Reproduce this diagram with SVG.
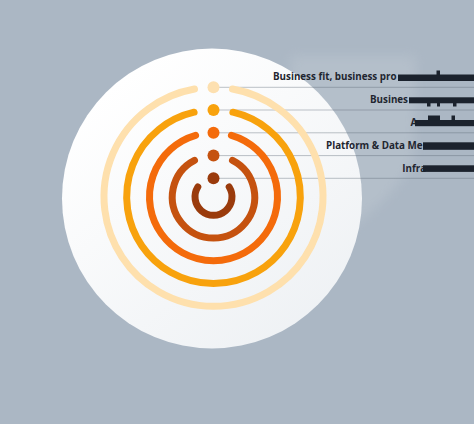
<svg xmlns="http://www.w3.org/2000/svg" width="474" height="424" viewBox="0 0 474 424">
<defs>
<linearGradient id="disc" x1="0.2" y1="0.1" x2="0.85" y2="0.95">
<stop offset="0" stop-color="#ffffff"/>
<stop offset="1" stop-color="#eef1f4"/>
</linearGradient>
<filter id="soft" x="-20%" y="-20%" width="140%" height="140%">
<feGaussianBlur stdDeviation="6"/>
</filter>
<style>
.ring{fill:none;stroke-width:7;stroke-linecap:round}
.lead{stroke:#5f6b78;stroke-opacity:0.45;stroke-width:0.9}
.lbl{font-family:"Open Sans","Noto Sans","Liberation Sans",sans-serif;font-weight:700;font-size:9.8px;fill:#1f2630}
.bar{fill:#1b222d}
</style>
</defs>
<rect width="474" height="424" fill="#abb7c4"/>
<path d="M290 56 L416 56 L413 160 Q393 200 340 235 L300 200 Z" fill="#c0c9d2" opacity="0.45" filter="url(#soft)"/>
<circle cx="212" cy="198.5" r="150" fill="url(#disc)"/>

<g id="connectors">
<line class="lead" x1="213.5" y1="87.3" x2="474" y2="87.3"/>
<line class="lead" x1="213.5" y1="110" x2="474" y2="110"/>
<line class="lead" x1="213.5" y1="132.8" x2="474" y2="132.8"/>
<line class="lead" x1="213.5" y1="155.6" x2="474" y2="155.6"/>
<line class="lead" x1="213.5" y1="178.3" x2="474" y2="178.3"/>
</g>

<g id="layer-business-fit">
<path class="ring" stroke="#fee0ad" d="M232.5 89.0 A109.5 109.5 0 1 1 194.5 89.0"/>
<circle cx="213.5" cy="87.3" r="6" fill="#fde0b0"/>
<text class="lbl" x="273" y="79.5">Business fit, business pro</text>
<rect class="bar" x="398" y="74.5" width="76" height="6.5"/>
<rect class="bar" x="436.5" y="70.5" width="3.5" height="5"/>
</g>

<g id="layer-business">
<path class="ring" stroke="#f8a20d" d="M232.9 112.2 A86.8 86.8 0 1 1 194.1 112.2"/>
<circle cx="213.5" cy="110" r="6" fill="#f8a20d"/>
<text class="lbl" x="370" y="102.8">Busines</text>
<rect class="bar" x="409" y="97.3" width="65" height="6"/>
<rect class="bar" x="427" y="102" width="3.5" height="4.5"/>
<rect class="bar" x="437" y="102" width="3" height="4.5"/>
<rect class="bar" x="453" y="102" width="3.5" height="4.5"/>
</g>

<g id="layer-application">
<path class="ring" stroke="#f46b0b" d="M231.4 135.3 A64 64 0 1 1 195.6 135.3"/>
<circle cx="213.5" cy="132.8" r="6" fill="#f46b0b"/>
<text class="lbl" x="410.5" y="126">A</text>
<rect class="bar" x="415" y="120" width="59" height="6.2"/>
<rect class="bar" x="428" y="115.5" width="12" height="5"/>
<rect class="bar" x="451.5" y="115.5" width="3.5" height="5"/>
</g>

<g id="layer-platform">
<path class="ring" stroke="#c5520f" d="M232.5 160.3 A41.2 41.2 0 1 1 194.5 160.3"/>
<circle cx="213.5" cy="155.6" r="6" fill="#c5520f"/>
<text class="lbl" x="326" y="149">Platform &amp; Data Me</text>
<rect class="bar" x="423" y="142.3" width="51" height="7.5"/>
</g>

<g id="layer-infrastructure">
<path class="ring" stroke="#9a3b0c" d="M229.2 187.0 A18.5 18.5 0 1 1 197.8 187.0"/>
<circle cx="213.5" cy="178.3" r="6" fill="#9a3b0c"/>
<text class="lbl" x="402.3" y="171.7">Infra</text>
<rect class="bar" x="423" y="165.3" width="51" height="6.6"/>
</g>
</svg>
